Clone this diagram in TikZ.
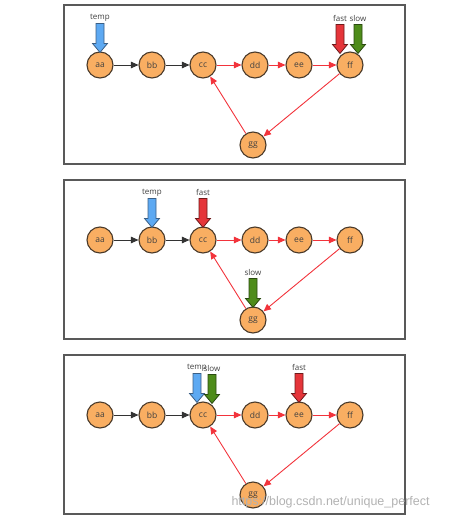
\documentclass[tikz,border=0pt]{standalone}
\usepackage{fontspec}
\setmainfont{Open Sans}
\newfontfamily\wmfont{Liberation Sans}
\usetikzlibrary{arrows.meta,calc}
\definecolor{nodefill}{HTML}{F9AE62}
\definecolor{nodeline}{HTML}{4A3A2A}
\definecolor{redline}{HTML}{F2333B}
\definecolor{ptrblue}{HTML}{5DA9F2}
\definecolor{ptrblueline}{HTML}{3B5F85}
\definecolor{ptrred}{HTML}{E5353A}
\definecolor{ptrredline}{HTML}{6E1A1A}
\definecolor{ptrgreen}{HTML}{4E8C1A}
\definecolor{ptrgreenline}{HTML}{2A4A10}
\begin{document}
\begin{tikzpicture}[x=1pt,y=-1pt,
  circ/.style={circle,draw=nodeline,fill=nodefill,line width=1.1pt,minimum size=26pt,inner sep=0pt,font=\fontsize{8.5}{9}\selectfont,text=black!75},
  blkarrow/.style={draw=black!80,line width=0.9pt,-{Triangle[length=7.5pt,width=6.5pt]}},
  redarrow/.style={draw=redline,line width=0.9pt,-{Triangle[length=7.5pt,width=6.5pt]}},
  panel/.style={draw=black!65,line width=1.3pt},
  lbl/.style={font=\fontsize{8}{9}\selectfont,text=black!75},
  pics/pointer/.style n args={3}{code={
    \draw[fill=#1,draw=#2,line width=0.8pt,line join=miter]
      (0,0) -- (-7.5,-9) -- (-4,-9) -- (-4,-29) -- (4,-29) -- (4,-9) -- (7.5,-9) -- cycle;
    \node[lbl] at (0,-35) {#3};
  }}
]
\useasboundingbox (0,0) rectangle (474,519);
\foreach \p/\oy in {1/0,2/175,3/350}{
  \draw[panel] (64,\oy+5) rectangle (405,\oy+164);
  \node[circ] (aa\p) at (100,\oy+65) {aa};
  \node[circ] (bb\p) at (152,\oy+65) {bb};
  \node[circ] (cc\p) at (203,\oy+65) {cc};
  \node[circ] (dd\p) at (255,\oy+65) {dd};
  \node[circ] (ee\p) at (299,\oy+65) {ee};
  \node[circ] (ff\p) at (350,\oy+65) {ff};
  \node[circ] (gg\p) at (253,\oy+145) {gg};
  \draw[blkarrow] (aa\p) -- (bb\p);
  \draw[blkarrow] (bb\p) -- (cc\p);
  \draw[redarrow] (cc\p) -- (dd\p);
  \draw[redarrow] (dd\p) -- (ee\p);
  \draw[redarrow] (ee\p) -- (ff\p);
  \draw[redarrow] (ff\p) -- (gg\p);
  \draw[redarrow] (gg\p) -- (cc\p);
}
% panel 1
\pic at ($(aa1.north)+(0,1)$) {pointer={ptrblue}{ptrblueline}{temp}};
\pic at ($(ff1.north)+(-10,2)$) {pointer={ptrred}{ptrredline}{fast}};
\pic at ($(ff1.north)+(8,2)$) {pointer={ptrgreen}{ptrgreenline}{slow}};
% panel 2
\pic at ($(bb2.north)+(0,1)$) {pointer={ptrblue}{ptrblueline}{temp}};
\pic at ($(cc2.north)+(0,1)$) {pointer={ptrred}{ptrredline}{fast}};
\pic at ($(gg2.north)+(0,1)$) {pointer={ptrgreen}{ptrgreenline}{slow}};
% panel 3
\pic at ($(cc3.north)+(-6,1)$) {pointer={ptrblue}{ptrblueline}{temp}};
\pic at ($(cc3.north)+(9,2)$) {pointer={ptrgreen}{ptrgreenline}{slow}};
\pic at ($(ee3.north)+(0,1)$) {pointer={ptrred}{ptrredline}{fast}};
% watermark
\node[font=\wmfont\fontsize{12.5}{14}\selectfont,text=black!30,anchor=west] (wm) at (228,502) {https://blog.csdn.net/unique\_perfect};
\end{tikzpicture}
\end{document}
